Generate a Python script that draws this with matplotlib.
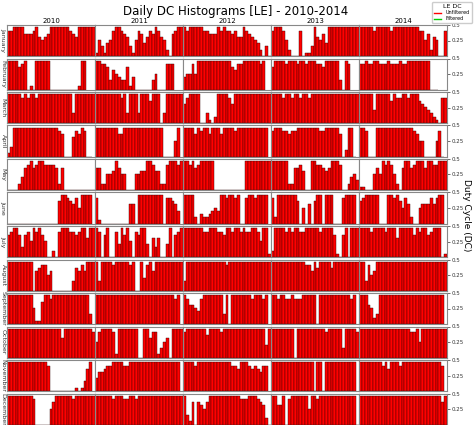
import matplotlib
matplotlib.use("Agg")
import matplotlib.pyplot as plt
from matplotlib.lines import Line2D

years = ["2010", "2011", "2012", "2013", "2014"]
months = ["January", "February", "March", "April", "May", "June", "July",
          "August", "September", "October", "November", "December"]
days_in_month = {
    "2010": [31, 28, 31, 30, 31, 30, 31, 31, 30, 31, 30, 31],
    "2011": [31, 28, 31, 30, 31, 30, 31, 31, 30, 31, 30, 31],
    "2012": [31, 29, 31, 30, 31, 30, 31, 31, 30, 31, 30, 31],
    "2013": [31, 28, 31, 30, 31, 30, 31, 31, 30, 31, 30, 31],
    "2014": [31, 28, 31, 30, 31, 30, 31, 31, 30, 31, 30, 31],
}
# daily duty cycle, coded in levels 0-9 (level 9 ~ 0.46)
dc_2010 = [
    "8899997778965679999999876999999",
    "9999789010999990000000000199",
    "9999989899899999999999939999999",
    "139999999999999999870006879800",
    "0000247897899888872700000000000",
    "000000000000000000799876859999",
    "7899737859897500208999887899699",
    "9999999990678856000000037686999",
    "999999999511799899999999999993",
    "9999999999999999999699999999998",
    "999999999999998000000000101379",
    "9999999998000005799999989999999",
]
dc_2011 = [
    "1531458998763158746879865207899",
    "9988736543371400000035000888",
    "9999999998939993999799903999999",
    "999999997799999999999999000059",
    "7722556975500055669986622899989",
    "810000000000660999999999088764",
    "9807900849795087994063600490789",
    "9399998999998900948969999999999",
    "999999999999999999999999999989",
    "5899998199999990099688135609999",
    "466788999988999999999999999999",
    "9999998999889989999999999999999",
]
dc_2012 = [
    "9899999887779898878669876542030",
    "45585999999999999768899999989",
    "6899990031029999869999999999999",
    "999979899799979999899999999999",
    "9989789999900000000000999999999",
    "999920322345499899890089989999",
    "9999999889998879989989889985991",
    "3999999999999998999999999999999",
    "986654899999993909999999899989",
    "8999999979999899999999999999949",
    "999989999999999998879998787688",
    "9317076579999999999988899987620",
]
dc_2013 = [
    "8999852000801139657499999999999",
    "7999989998998999887999993098",
    "9999899899899899999999999999999",
    "899988788999999998899999702990",
    "9999992277860099887679998002453",
    "829999999705060799099900089999",
    "2999989899889999989999710790999",
    "9999999999998869799997999999999",
    "998998898889999909999999999989",
    "9999999909999999999899999399998",
    "999999999999999099099999999999",
    "9966908999999599899999999999990",
]
dc_2014 = [
    "9999989999989999999998857265008",
    "8898899888988898899999999000",
    "9999949999979889989997654321088",
    "998000999999999999987550000580",
    "1100057598985207997899979988999",
    "789999900099897586200566686899",
    "9999899998999699999798997899901",
    "9938569999999999999999999999999",
    "999652399999999999999999999999",
    "9999999999999999998895999999999",
    "999999998979998999999999999998",
    "9999999999999999999999999999979",
]
dc_codes = {"2010": dc_2010, "2011": dc_2011, "2012": dc_2012,
            "2013": dc_2013, "2014": dc_2014}
level_step = 0.46 / 9

W, H = 474, 425
fig = plt.figure(figsize=(W / 100, H / 100), dpi=100)
fig.patch.set_facecolor("white")

x0, colw = 7, 88
y0, pitch, rowh = 25, 33.5, 31

for i, m in enumerate(months):
    for j, yr in enumerate(years):
        n = days_in_month[yr][i]
        code = dc_codes[yr][i][:n].ljust(n, "0")
        vals = [int(c) * level_step for c in code]
        left = (x0 + j * colw) / W
        bottom = 1 - (y0 + i * pitch + rowh) / H
        ax = fig.add_axes([left, bottom, colw / W, rowh / H])
        ax.bar(range(1, n + 1), vals, width=1.0, color="#ff0000",
               edgecolor="#330000", linewidth=0.3)
        ax.set_xlim(0.5, 31.5)
        ax.set_ylim(0, 0.5)
        ax.set_xticks([])
        for s in ax.spines.values():
            s.set_color("#888888")
            s.set_linewidth(0.8)
        if j == 4:
            ax.yaxis.tick_right()
            ax.set_yticks([0.25, 0.5])
            ax.set_yticklabels(["0.25", "0.5"])
            ax.tick_params(axis="y", labelsize=4, length=2, width=0.5,
                           pad=1, colors="#333333")
        else:
            ax.set_yticks([])
        if j == 0:
            ax.text(-0.045, 0.5, m, transform=ax.transAxes, rotation=270,
                    ha="center", va="center", fontsize=4.5, color="#333333")
        if i == 0:
            ax.text(0.5, 1.04, yr, transform=ax.transAxes, ha="center",
                    va="bottom", fontsize=5)

fig.text(236 / W, 1 - 11 / H, "Daily DC Histograms [LE] - 2010-2014",
         ha="center", va="center", fontsize=8.5)
fig.text(467 / W, 1 - 215 / H, "Duty Cycle (DC)", rotation=270,
         ha="center", va="center", fontsize=6.5)

handles = [Line2D([], [], color="#ff0000", lw=1),
           Line2D([], [], color="#00cc00", lw=1)]
leg = fig.legend(handles, ["Unfiltered", "Filtered"], title="LE DC",
                 loc="upper right", bbox_to_anchor=(1.0, 1.0), fontsize=3.5,
                 title_fontsize=4.5, handlelength=1.5, borderpad=0.4,
                 labelspacing=0.2, framealpha=1)
fig.savefig("out.png", dpi=100)
